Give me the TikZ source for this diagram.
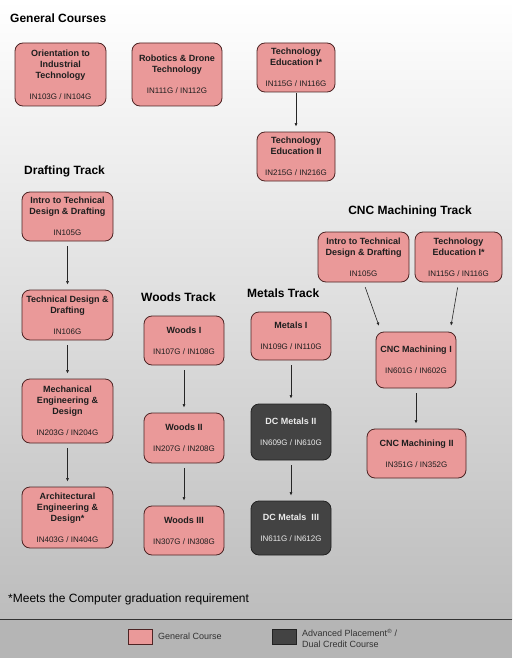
\documentclass[tikz,border=0pt]{standalone}
\usepackage{fontspec}
\setmainfont{Liberation Sans}
\usetikzlibrary{positioning, arrows.meta, calc, backgrounds}
\definecolor{crspink}{HTML}{EA9999}
\definecolor{crsedge}{HTML}{4D2424}
\definecolor{dcgray}{HTML}{434343}
\definecolor{dcedge}{HTML}{222222}
\definecolor{inkgray}{HTML}{1E1E1E}

\begin{document}
\begin{tikzpicture}[
  x=1pt, y=-1pt,
  every node/.style={font=\fontsize{9}{11}\selectfont},
  course/.style={draw=crsedge, fill=crspink, rounded corners=8pt, line width=0.8pt,
                 align=center, text=inkgray, inner sep=0pt,
                 font=\fontsize{9}{11}\selectfont\bfseries},
  dccourse/.style={course, draw=dcedge, fill=dcgray, text=white!92!black},
  track/.style={anchor=west, inner sep=0pt, font=\fontsize{12}{14}\selectfont\bfseries},
  link/.style={-{Latex[length=3.5pt,width=3pt]}, line width=0.6pt, black!85,
               shorten <=5pt, shorten >=5pt}
]
\useasboundingbox (0,0) rectangle (512,658);
% background
\shade[top color=white, bottom color=black!26] (0,0) rectangle (512,619);
\fill[black!29] (0,619) rectangle (512,658);

\def\crs#1#2#3#4#5#6#7#8{%
  \node[#1, minimum width=#5pt, minimum height=#6pt] (#2) at (#3,#4)
    {#7\\[10pt]{\fontsize{8}{9}\selectfont\mdseries #8}};
}

% track titles
\node[track] (genT) at (10,18) {General Courses};
\node[track] (draftT) at (24,171) {Drafting Track};
\node[track] (woodT) at (141,297) {Woods Track};
\node[track] (metalT) at (247,293) {Metals Track};
\node[track, anchor=center] (cncT) at (410,211) {CNC Machining Track};

% general courses
\crs{course}{orient}{60.5}{74.5}{91}{63}{Orientation to\\Industrial\\Technology}{IN103G / IN104G}
\crs{course}{robot}{177}{74.5}{90}{63}{Robotics \& Drone\\Technology}{IN111G / IN112G}
\crs{course}{teI}{296}{67.5}{78}{49}{Technology\\Education I*}{IN115G / IN116G}
\crs{course}{teII}{296}{156.5}{78}{49}{Technology\\Education II}{IN215G / IN216G}
% drafting
\crs{course}{dI}{67.5}{216.5}{91}{49}{Intro to Technical\\Design \& Drafting}{IN105G}
\crs{course}{dII}{67.5}{315}{91}{50}{Technical Design \&\\Drafting}{IN106G}
\crs{course}{dIII}{67.5}{411}{91}{64}{Mechanical\\Engineering \&\\Design}{IN203G / IN204G}
\crs{course}{dIV}{67.5}{517.5}{91}{61}{Architectural\\Engineering \&\\Design*}{IN403G / IN404G}
% woods
\crs{course}{wI}{184}{340.5}{80}{49}{Woods I}{IN107G / IN108G}
\crs{course}{wII}{184}{438}{80}{50}{Woods II}{IN207G / IN208G}
\crs{course}{wIII}{184}{530.5}{80}{49}{Woods III}{IN307G / IN308G}
% metals
\crs{course}{mI}{291}{336}{80}{48}{Metals I}{IN109G / IN110G}
\crs{dccourse}{mII}{291}{432}{80}{56}{DC Metals II}{IN609G / IN610G}
\crs{dccourse}{mIII}{291}{528}{80}{54}{DC Metals\ \ III}{IN611G / IN612G}
% cnc
\crs{course}{cIntro}{363.5}{257}{91}{50}{Intro to Technical\\Design \& Drafting}{IN105G}
\crs{course}{cTe}{458.5}{257}{87}{50}{Technology\\Education I*}{IN115G / IN116G}
\crs{course}{cI}{416}{360}{80}{56}{CNC Machining I}{IN601G / IN602G}
\crs{course}{cII}{416.5}{453.5}{99}{49}{CNC Machining II}{IN351G / IN352G}

% arrows
\draw[link, shorten <=1pt] (teI) -- (teII);
\foreach \a/\b in {dI/dII, dII/dIII, dIII/dIV, wI/wII, wII/wIII, mI/mII, mII/mIII}
  \draw[link] (\a) -- (\b);
\draw[link, shorten >=6pt] (cIntro.south) -- ([xshift=-35pt]cI.north);
\draw[link, shorten >=6pt] (cTe.south) -- ([xshift=34pt]cI.north);
\draw[link] (cI.south) -- (cI.south |- cII.north);

% footer
\node[anchor=west, inner sep=0pt, font=\fontsize{12}{14}\selectfont] (note) at (8,599)
  {*Meets the Computer graduation requirement};
\draw[black!80, line width=0.8pt] (0,619) -- (512,619);
\node[course, rounded corners=0pt, line width=0.6pt, minimum width=24pt, minimum height=15pt] (keyG) at (140,636.5) {};
\node[anchor=west, inner sep=0pt, font=\fontsize{9}{11}\selectfont, text=black!80] (keyGt) at (158,636) {General Course};
\node[dccourse, rounded corners=0pt, line width=0.6pt, minimum width=24pt, minimum height=15pt] (keyD) at (284,636.5) {};
\node[anchor=west, inner sep=0pt, align=left, font=\fontsize{9}{11}\selectfont, text=black!80] (keyDt) at (302,638.5)
  {Advanced Placement\textsuperscript{®} /\\Dual Credit Course};
\end{tikzpicture}
\end{document}
